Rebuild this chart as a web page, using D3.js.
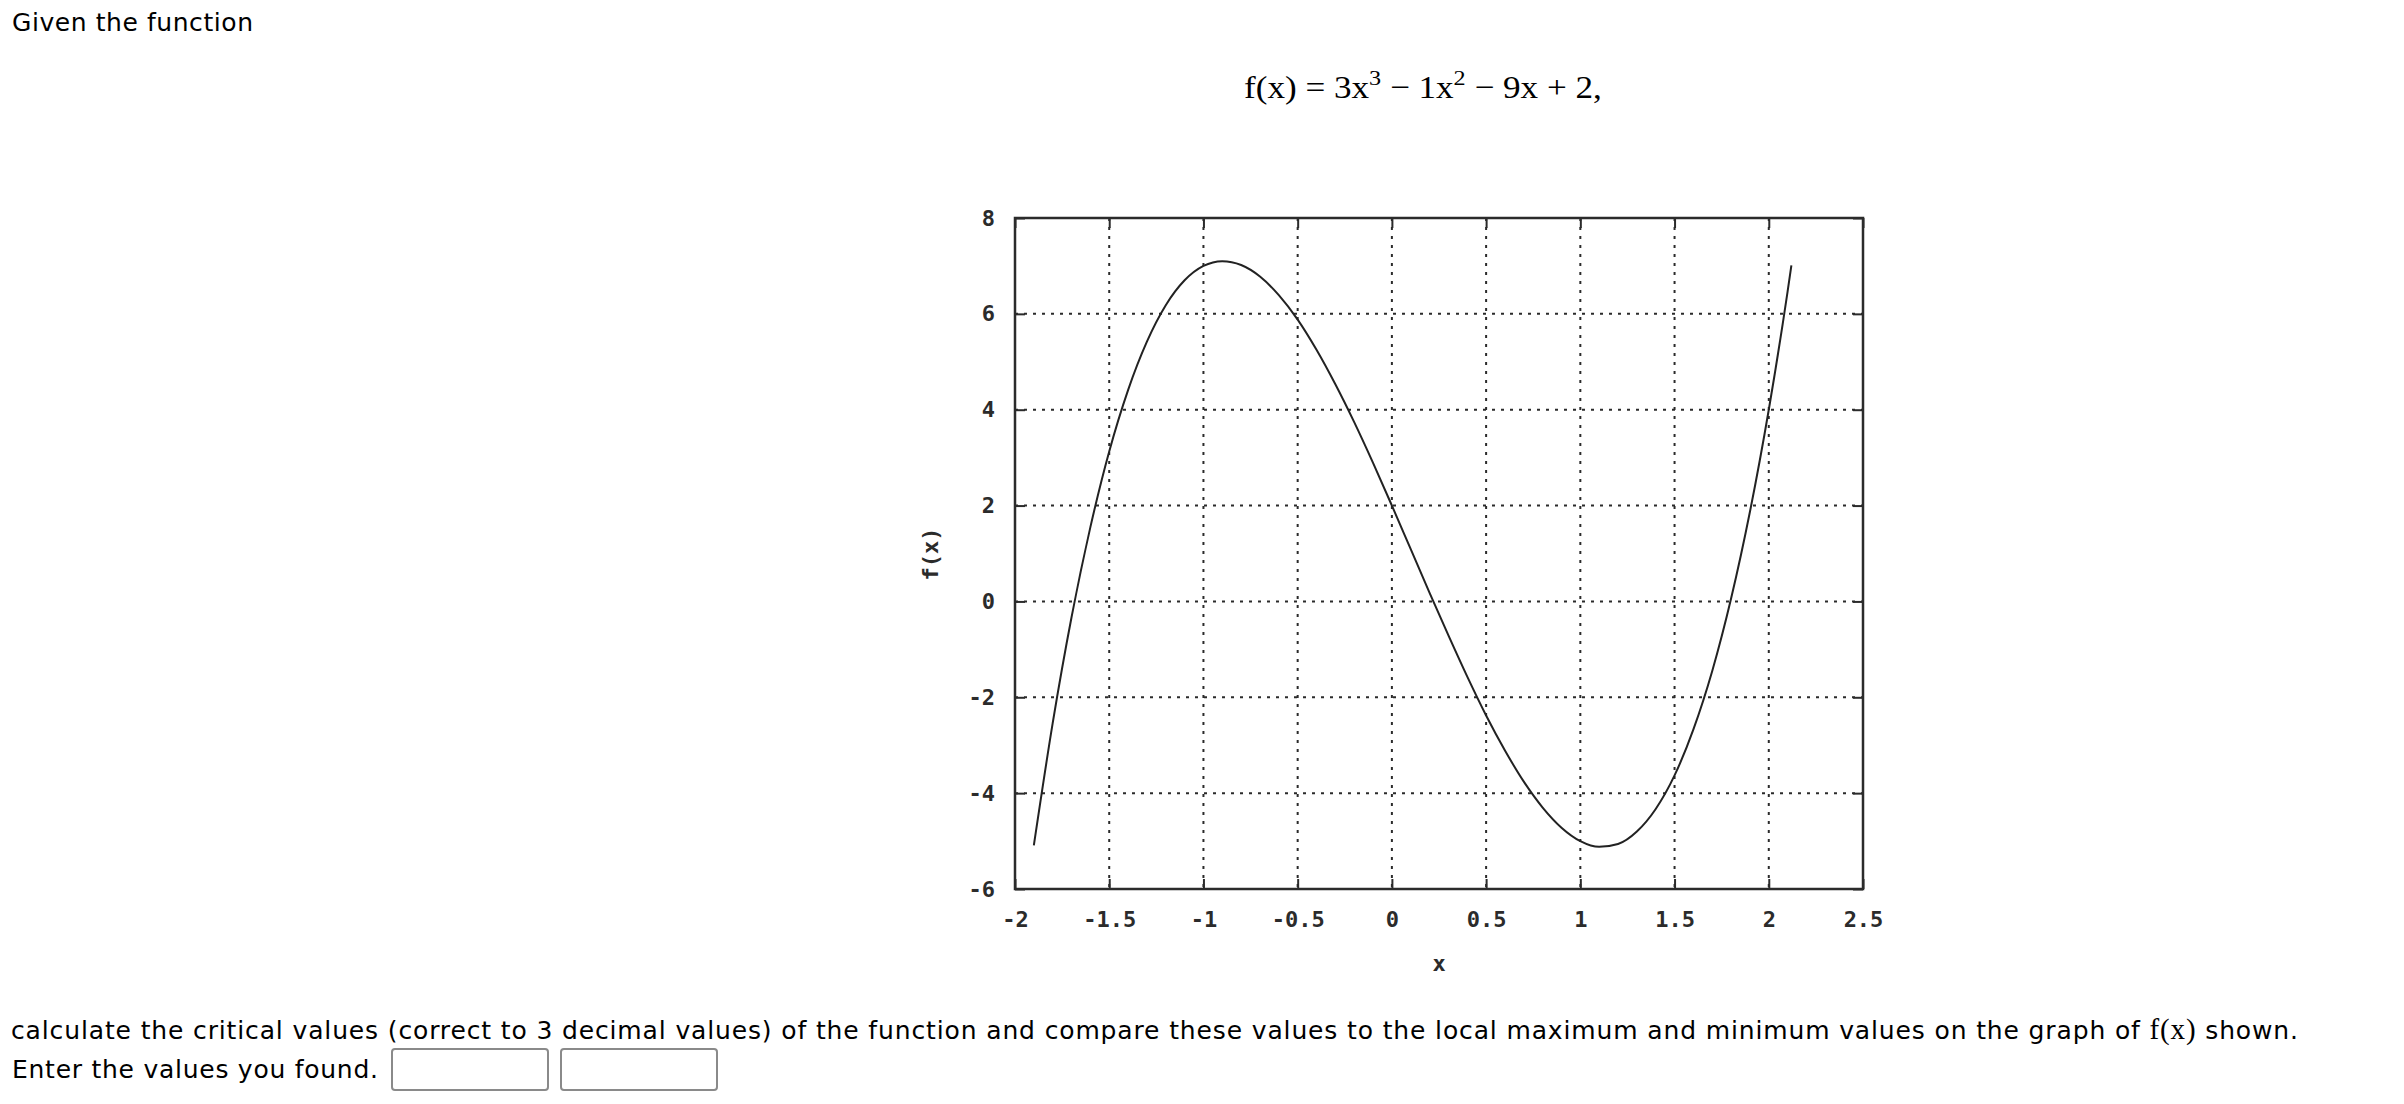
<!DOCTYPE html>
<html>
<head>
<meta charset="utf-8">
<script src="https://cdn.jsdelivr.net/npm/d3@7"></script>
<style>
  html, body { margin: 0; padding: 0; background: #fff; }
  svg { display: block; }
</style>
</head>
<body>
<script>
//////////////////////
// GLOBAL VARIABLES //
const w = 2404;
const h = 1104;

// plot frame (pixels)
const frame = { left: 1015, right: 1863, top: 218, bottom: 889 };

// axis ticks
const xTicks = [-2, -1.5, -1, -0.5, 0, 0.5, 1, 1.5, 2, 2.5];
const xTickLabels = ["-2", "-1.5", "-1", "-0.5", "0", "0.5", "1", "1.5", "2", "2.5"];
const yTicks = [-6, -4, -2, 0, 2, 4, 6, 8];
const yTickLabels = ["-6", "-4", "-2", "0", "2", "4", "6", "8"];

// curve
const curveX = [-1.9, -1.8, -1.7, -1.6, -1.5, -1.4, -1.3, -1.2, -1.1, -1.0,
  -0.9, -0.8, -0.7, -0.6, -0.5, -0.4, -0.3, -0.2, -0.1, 0,
  0.1, 0.2, 0.3, 0.4, 0.5, 0.6, 0.7, 0.8, 0.9, 1.0,
  1.1, 1.2, 1.3, 1.4, 1.5, 1.6, 1.7, 1.8, 1.9, 2.0, 2.1, 2.12];
const curveY = [-5.09, -2.54, -0.33, 1.55, 3.13, 4.41, 5.42, 6.18, 6.70, 7.00,
  7.10, 7.02, 6.78, 6.39, 5.88, 5.25, 4.53, 3.74, 2.89, 2.00,
  1.09, 0.18, -0.71, -1.57, -2.38, -3.11, -3.76, -4.30, -4.72, -5.00,
  -5.12, -5.06, -4.80, -4.33, -3.63, -2.67, -1.45, 0.06, 1.87, 4.00, 6.47, 7.01];

// formula pieces: text, superscript?
const formulaParts = [
  ["f(x) = 3x", false], ["3", true], [" \u2212 1x", false], ["2", true],
  [" \u2212 9x + 2,", false]
];
//////////////////////

const MONO = "'DejaVu Sans Mono', monospace";
const SANS = "'DejaVu Sans', Verdana, sans-serif";
const SERIF = "'Liberation Serif', 'Times New Roman', serif";
const INK = "#2b2b2b";

let svg = d3.select("body")
  .append("svg")
  .attr("width", w)
  .attr("height", h);

// scales
let xScale = d3.scaleLinear().domain([-2, 2.5]).range([frame.left, frame.right]);
let yScale = d3.scaleLinear().domain([-6, 8]).range([frame.bottom, frame.top]);

// --- text above the chart ---
svg.append("text")
  .attr("x", 12).attr("y", 31)
  .attr("font-family", SANS).attr("font-size", 25)
  .attr("textLength", 241).attr("lengthAdjust", "spacing")
  .text("Given the function");

// formula: laid out in one run, then stretched to the width it has in the picture
const supRise = 13;
let formula = svg.append("text")
  .attr("font-family", SERIF)
  .attr("font-size", 32)
  .attr("xml:space", "preserve")
  .style("white-space", "pre");
let prevSup = false;
formulaParts.forEach(p => {
  formula.append("tspan")
    .attr("dy", p[1] ? -supRise : (prevSup ? supRise : 0))
    .attr("font-size", p[1] ? 22 : 32)
    .text(p[0]);
  prevSup = p[1];
});
const fw = formula.node().getComputedTextLength();
formula.attr("transform", "translate(1244,98) scale(" + (358 / fw) + ",1)");

// --- plot ---
let g = svg.append("g");

// grid lines (dotted)
const innerX = xTicks.filter(d => d > -2 && d < 2.5);
const innerY = yTicks.filter(d => d > -6 && d < 8);

g.selectAll(".gridx")
  .data(innerX)
  .enter()
  .append("line")
  .attr("x1", d => xScale(d)).attr("x2", d => xScale(d))
  .attr("y1", frame.top).attr("y2", frame.bottom)
  .attr("stroke", INK).attr("stroke-width", 2)
  .attr("stroke-dasharray", "3,6");

g.selectAll(".gridy")
  .data(innerY)
  .enter()
  .append("line")
  .attr("x1", frame.left).attr("x2", frame.right)
  .attr("y1", d => yScale(d)).attr("y2", d => yScale(d))
  .attr("stroke", INK).attr("stroke-width", 2)
  .attr("stroke-dasharray", "3,6");

// axes: inward ticks on all four sides, labels on left and bottom
const tickLen = 10;
let xAxis = d3.axisBottom(xScale)
  .tickValues(xTicks)
  .tickFormat((d, i) => xTickLabels[i])
  .tickSizeInner(-tickLen).tickSizeOuter(0).tickPadding(22);
let yAxis = d3.axisLeft(yScale)
  .tickValues(yTicks)
  .tickFormat((d, i) => yTickLabels[i])
  .tickSizeInner(-tickLen).tickSizeOuter(0).tickPadding(20);

function styleAxis(sel) {
  sel.select(".domain").remove();
  sel.selectAll(".tick line").attr("stroke", INK).attr("stroke-width", 2);
  sel.selectAll(".tick text")
    .attr("fill", INK)
    .attr("font-family", MONO)
    .attr("font-weight", "bold")
    .attr("font-size", 22);
}

g.append("g")
  .attr("transform", "translate(0," + frame.bottom + ")")
  .call(xAxis)
  .call(styleAxis);

g.append("g")
  .attr("transform", "translate(" + frame.left + ",0)")
  .call(yAxis)
  .call(styleAxis);

g.append("g")
  .attr("transform", "translate(0," + frame.top + ")")
  .call(d3.axisTop(xScale).tickValues(xTicks).tickFormat("").tickSizeInner(-tickLen).tickSizeOuter(0))
  .call(styleAxis);

g.append("g")
  .attr("transform", "translate(" + frame.right + ",0)")
  .call(d3.axisRight(yScale).tickValues(yTicks).tickFormat("").tickSizeInner(-tickLen).tickSizeOuter(0))
  .call(styleAxis);

// frame
g.append("rect")
  .attr("x", frame.left).attr("y", frame.top)
  .attr("width", frame.right - frame.left)
  .attr("height", frame.bottom - frame.top)
  .attr("fill", "none")
  .attr("stroke", INK).attr("stroke-width", 2.5);

// the curve
const curveData = curveX.map((x, i) => ({ x: x, y: curveY[i] }));
let line = d3.line()
  .x(d => xScale(d.x))
  .y(d => yScale(d.y))
  .curve(d3.curveMonotoneX);

g.append("path")
  .datum(curveData)
  .attr("d", line)
  .attr("fill", "none")
  .attr("stroke", "#222")
  .attr("stroke-width", 2);

// axis titles
g.append("text")
  .attr("x", (frame.left + frame.right) / 2)
  .attr("y", 963)
  .attr("text-anchor", "middle").attr("dominant-baseline", "central")
  .attr("font-family", MONO).attr("font-weight", "bold").attr("font-size", 22)
  .attr("fill", INK)
  .text("x");

g.append("text")
  .attr("transform", "translate(930,554) rotate(-90)")
  .attr("text-anchor", "middle").attr("dominant-baseline", "central")
  .attr("font-family", MONO).attr("font-weight", "bold").attr("font-size", 22)
  .attr("fill", INK)
  .text("f(x)");

// --- text below the chart ---
let para = svg.append("text")
  .attr("x", 11).attr("y", 1039)
  .attr("font-family", SANS).attr("font-size", 25)
  .attr("textLength", 2287).attr("lengthAdjust", "spacing");
para.append("tspan")
  .text("calculate the critical values (correct to 3 decimal values) of the function and compare these values to the local maximum and minimum values on the graph of ");
para.append("tspan")
  .attr("font-family", SERIF).attr("font-size", 29)
  .text("f(x)");
para.append("tspan")
  .text(" shown.");

svg.append("text")
  .attr("x", 12).attr("y", 1078)
  .attr("font-family", SANS).attr("font-size", 25)
  .attr("textLength", 366).attr("lengthAdjust", "spacing")
  .text("Enter the values you found.");

// answer boxes
const boxX = [392, 561];
svg.selectAll(".box")
  .data(boxX)
  .enter()
  .append("rect")
  .attr("x", d => d).attr("y", 1049)
  .attr("width", 156).attr("height", 41)
  .attr("rx", 3)
  .attr("fill", "#fff")
  .attr("stroke", "#8a8a8a").attr("stroke-width", 2);
</script>
</body>
</html>
